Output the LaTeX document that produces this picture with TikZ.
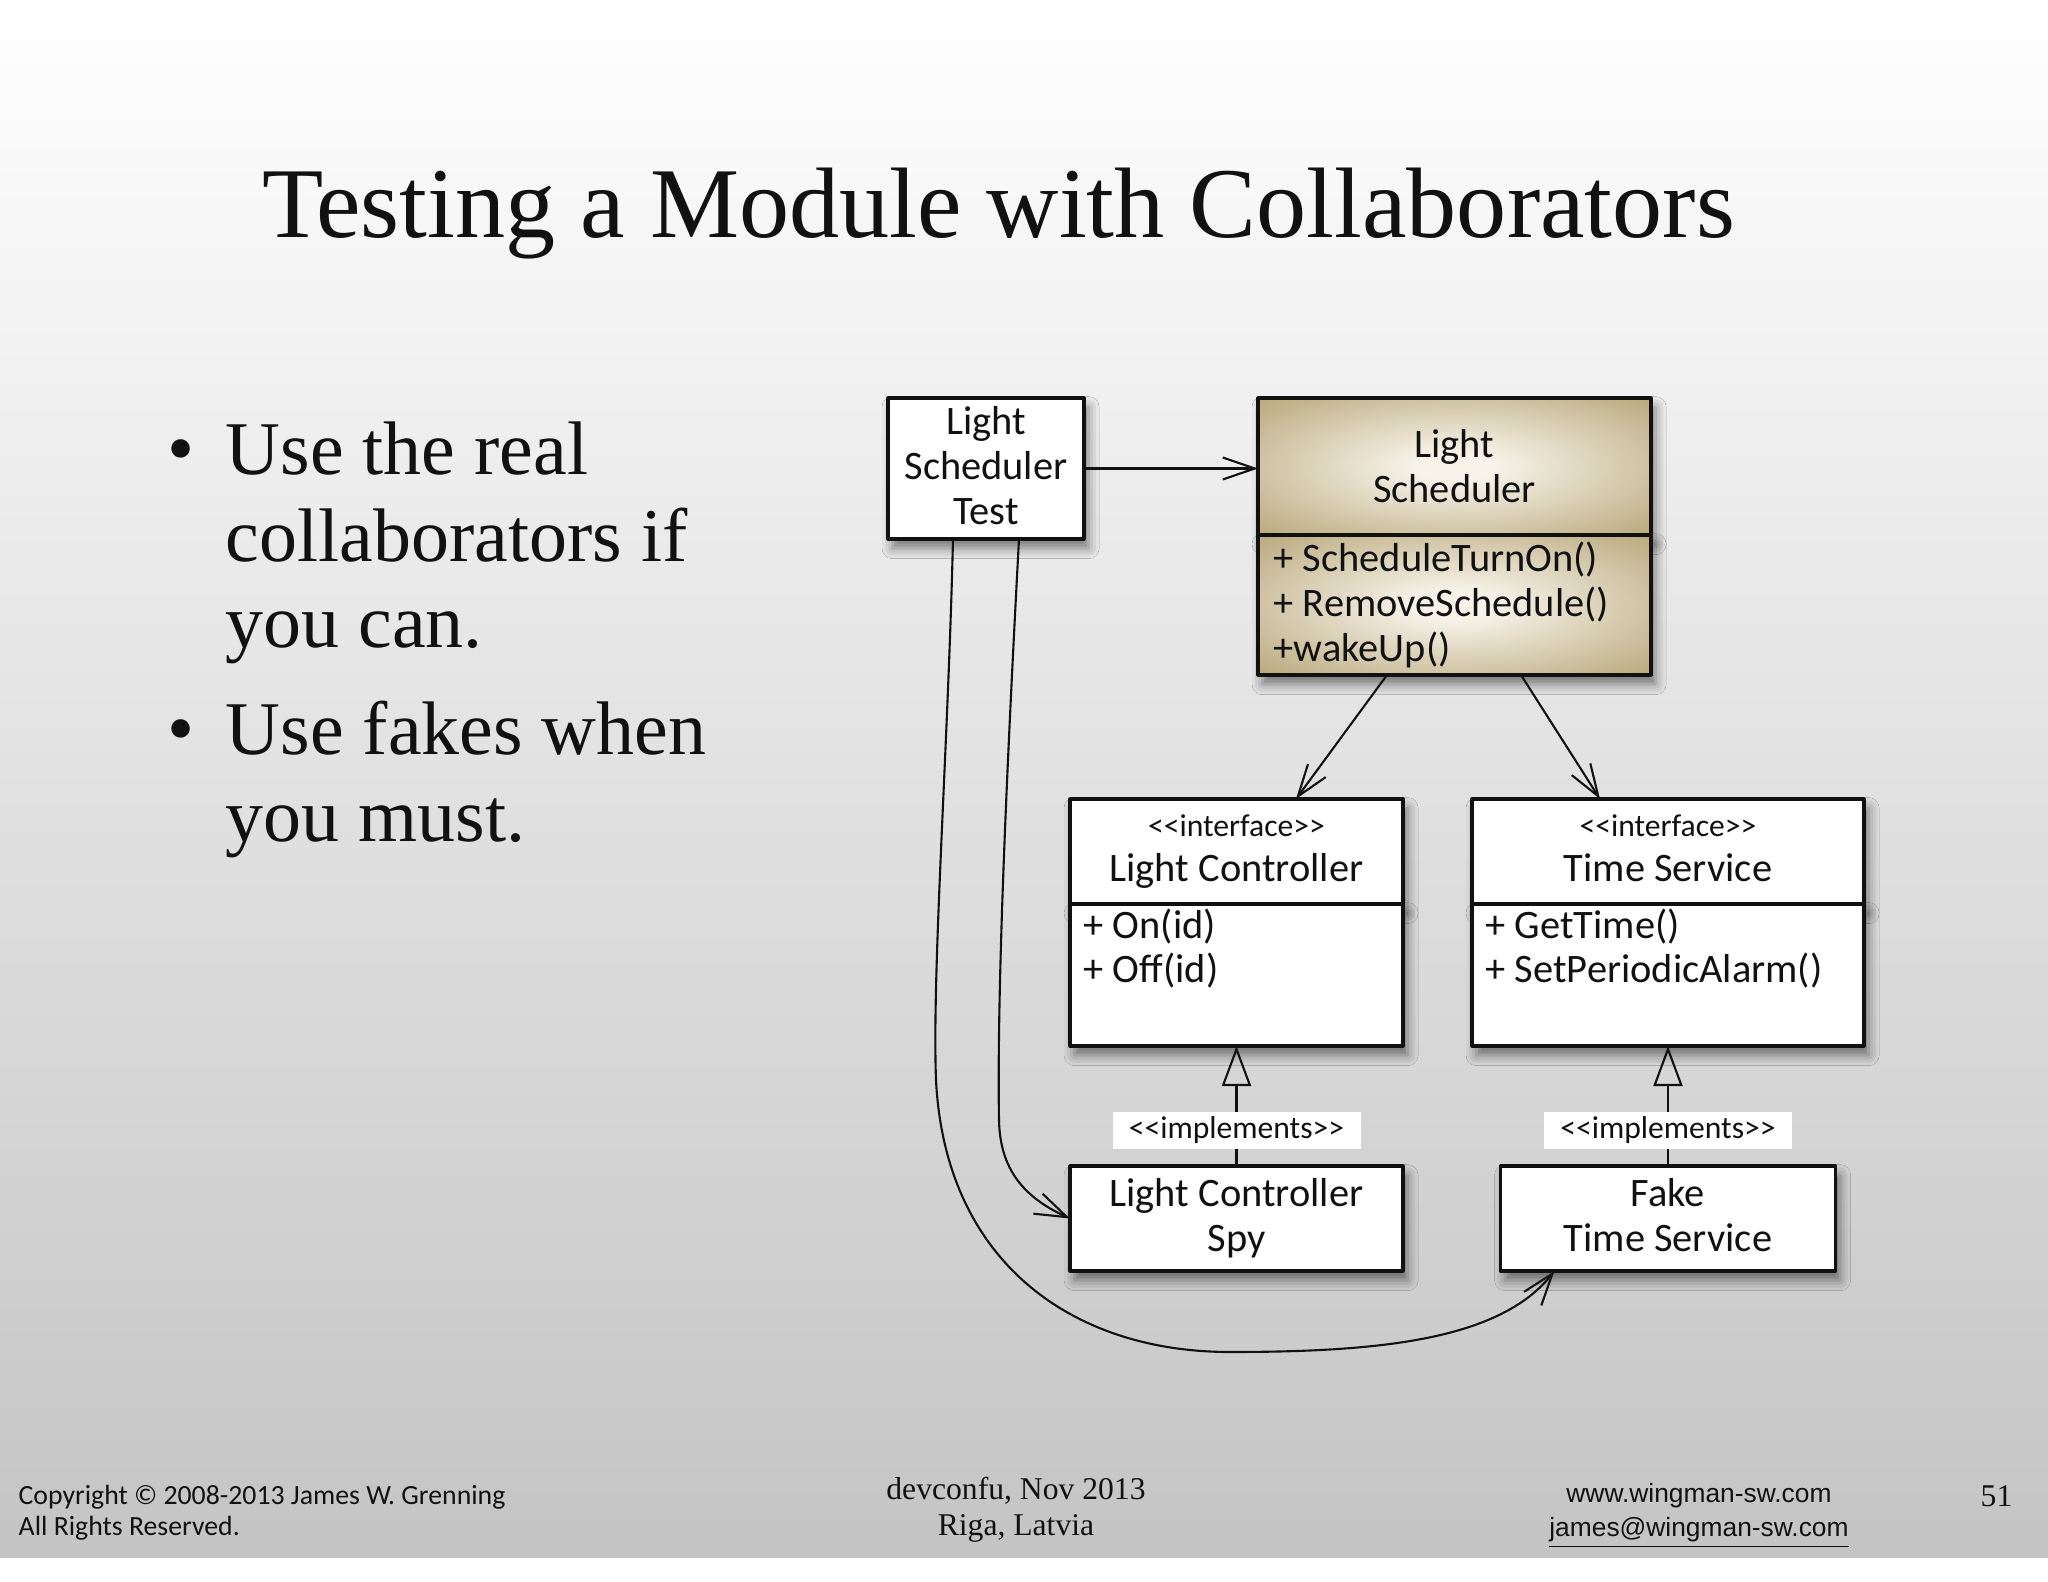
\documentclass[tikz,border=0pt]{standalone}
\usepackage{fontspec}
\setmainfont{Liberation Serif}
\newfontfamily\umlfont{Carlito}
\newfontfamily\gillfont{Carlito}
\newfontfamily\arialfont{Liberation Sans}
\usetikzlibrary{arrows.meta,positioning,calc,shadows.blur}
\definecolor{ink}{HTML}{111111}
\definecolor{khaki}{HTML}{B4A273}
\definecolor{cream}{HTML}{F7F3E9}
\definecolor{slidegray}{HTML}{C4C4C4}
\pgfdeclareradialshading{lsglow}{\pgfpoint{0bp}{0bp}}{%
  color(0bp)=(cream); color(5bp)=(cream); color(38bp)=(khaki); color(100bp)=(khaki)}
\newcommand{\umlstereo}[1]{<\kern0pt<#1>\kern0pt>}

\begin{document}
\begin{tikzpicture}[
  line cap=round,
  line join=round,
  every node/.style={
    align=center,
    text=ink,
  },
  box/.style={
    draw=ink,
    fill=white,
    line width=0.9pt,
    inner sep=0pt,
    outer sep=0pt,
    font=\umlfont\fontsize{11.5}{12.8}\selectfont,
    blur shadow={shadow xshift=1.3pt, shadow yshift=-2.6pt,
      shadow blur radius=3pt, shadow opacity=50},
  },
  lsbox/.style={
    box,
    shading=lsglow,
  },
  ops/.style={
    inner sep=0pt,
    text width=3.7cm,
    align=flush left,
    font=\umlfont\fontsize{11.5}{12.8}\selectfont,
  },
  stereotag/.style={
    fill=white,
    inner sep=0pt,
    minimum width=2.48cm,
    minimum height=0.37cm,
    font=\umlfont\fontsize{9}{10}\selectfont,
  },
  bullettext/.style={
    inner sep=0pt,
    text width=6cm,
    align=flush left,
    font=\fontsize{21.6}{24.6}\selectfont,
  },
  footer/.style={
    inner sep=0pt,
    text width=6cm,
    align=flush center,
  },
  arr/.style={
    -{Straight Barb[length=3.2mm, width=2.2mm]},
    ink,
    line width=0.6pt,
  },
  impl/.style={
    -{Triangle[open, length=4mm, width=2.9mm]},
    ink,
    line width=0.6pt,
  },
]

% --- slide background ---
\shade[top color=white, bottom color=slidegray] (0,0) rectangle (20.48,-15.58);
\fill[white] (0,-15.58) rectangle (20.48,-15.82);
\useasboundingbox (0,0) rectangle (20.48,-15.82);

% --- title and bullets ---
\node[font=\fontsize{28.5}{32}\selectfont, anchor=base, inner sep=0pt] (title)
  at (9.985,-2.38) {Testing a Module with Collaborators};

\node[bullettext, anchor=base west] (real) at (2.25,-4.75)
  {Use the real\\collaborators if\\you can.};
\node[bullettext, anchor=base west] (fakes) at (2.25,-7.55)
  {Use fakes when\\you must.};
\node[font=\fontsize{22}{24}\selectfont, anchor=base, inner sep=0pt] (dot1)
  at (1.81,-4.75) {\textbullet};
\node[font=\fontsize{22}{24}\selectfont, anchor=base, inner sep=0pt] (dot2)
  at (1.81,-7.55) {\textbullet};

% --- classes ---
\node[box, minimum width=1.96cm, minimum height=1.41cm] (lst)
  at (9.86,-4.685) {Light\\Scheduler\\Test\vphantom{g}};

\node[lsbox, right=1.74cm of lst.north east, anchor=north west,
  minimum width=3.93cm, minimum height=1.37cm] (lshead) {Light\\Scheduler};
\node[lsbox, below=0pt of lshead, minimum width=3.93cm, minimum height=1.40cm] (lsbody) {};
\node[ops, anchor=base west] (lsops) at ($(lsbody.north west)+(0.15,-0.37)$)
  {+ ScheduleTurnOn()\\+ RemoveSchedule()\\+wakeUp()};

\node[box, anchor=north west, minimum width=3.33cm, minimum height=1.05cm] (lchead)
  at (10.70,-7.99) {{\fontsize{9}{10}\selectfont\umlstereo{interface}}\\Light Controller};
\node[box, below=0pt of lchead, minimum width=3.33cm, minimum height=1.42cm] (lcbody) {};
\node[ops, anchor=base west] (lcops) at ($(lcbody.north west)+(0.13,-0.34)$)
  {+ On(id)\\+ Off(id)};

\node[box, right=0.69cm of lchead, minimum width=3.92cm, minimum height=1.05cm] (tshead)
  {{\fontsize{9}{10}\selectfont\umlstereo{interface}}\\Time Service\vphantom{g}};
\node[box, below=0pt of tshead, minimum width=3.92cm, minimum height=1.42cm] (tsbody) {};
\node[ops, anchor=base west] (tsops) at ($(tsbody.north west)+(0.13,-0.34)$)
  {+ GetTime()\\+ SetPeriodicAlarm()};

\node[box, below=1.20cm of lcbody, minimum width=3.33cm, minimum height=1.05cm] (spy)
  {Light Controller\\Spy};
\node[box, below=1.20cm of tsbody, minimum width=3.35cm, minimum height=1.05cm] (fake)
  {Fake\\Time Service\vphantom{y}};

% --- arrows ---
\draw[arr] (lst.east) -- (lst.east -| lshead.west);

\draw[arr] ($(lsbody.south)+(-0.675,0)$) -- ($(lchead.north)+(0.595,0)$);
\draw[arr] ($(lsbody.south)+(0.665,0)$) -- ($(tshead.north)+(-0.68,0)$);

\draw[impl] (spy.north) -- node[stereotag, pos=0.3] (spytag) {\umlstereo{implements}} (lcbody.south);
\draw[impl] (fake.north) -- node[stereotag, pos=0.3] (faketag) {\umlstereo{implements}} (fake.north |- tsbody.south);

\coordinate (inner) at ($(lst.south)+(0.33,0)$);
\coordinate (outer) at ($(lst.south)+(-0.33,0)$);
\coordinate (faketip) at ($(fake.south)+(-1.135,0)$);

\draw[arr] (inner) .. controls (10.05,-8) and (9.97,-10) .. (9.99,-11.2)
  .. controls (10.0,-11.75) and (10.3,-12.0) .. (spy.west);
\draw[arr] (outer) .. controls (9.48,-7.5) and (9.32,-9.7) .. (9.36,-10.8)
  .. controls (9.45,-12.6) and (10.7,-13.52) .. (12.3,-13.52)
  .. controls (13.8,-13.52) and (15.0,-13.4) .. (faketip);

% --- footer ---
\node[footer, align=flush left, anchor=base west, font=\gillfont\fontsize{7.9}{9.1}\selectfont] (copy)
  at (0.18,-15.04) {Copyright © 2008-2013 James W. Grenning\\All Rights Reserved.};
\node[footer, anchor=base, font=\fontsize{9}{10.5}\selectfont] (venue)
  at (10.16,-14.99) {devconfu, Nov 2013\\Riga, Latvia};
\node[footer, anchor=base, font=\arialfont\fontsize{7.5}{9.7}\selectfont] (web)
  at (16.99,-15.02) {www.wingman-sw.com\\\underline{james@wingman-sw.com}};
\node[font=\fontsize{9}{10}\selectfont, anchor=base, inner sep=0pt] (page)
  at (19.965,-15.06) {51};

\end{tikzpicture}
\end{document}
